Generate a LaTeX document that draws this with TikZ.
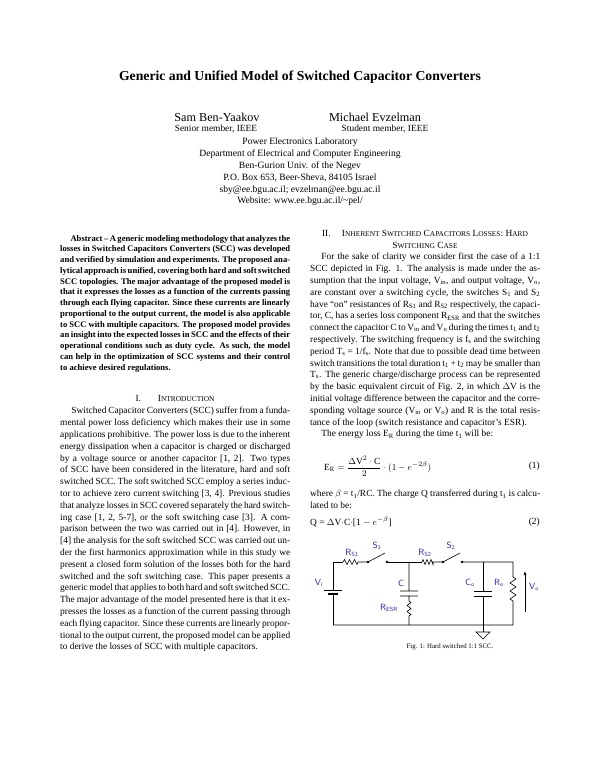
\documentclass[tikz,border=0pt]{standalone}
\usepackage{fontspec}
\setmainfont{Liberation Serif}
\usepackage{amsmath}
\usetikzlibrary{arrows.meta}
\definecolor{cblue}{RGB}{40,40,160}
\tikzset{
 body/.style={anchor=north west,inner sep=0pt,text width=230pt,align=justify,font=\fontsize{9.4}{11.8}\selectfont},
 ctr/.style={inner sep=0pt,font=\fontsize{9.4}{11}\selectfont},
 lab/.style={inner sep=0pt,text=cblue,font=\fontsize{9}{10}\selectfont\sffamily},
 wire/.style={line width=0.6pt},
 dot/.style={circle,fill,inner sep=0.9pt}
}
\newcommand{\sck}[2]{#1{\fontsize{7.4}{8}\selectfont\MakeUppercase{#2}}}
\begin{document}
\begin{tikzpicture}[x=1pt,y=-1pt]
\fill[white] (0,0) rectangle (600,776);
\useasboundingbox (0,0) rectangle (600,776);
\node[inner sep=0pt,font=\fontsize{13.7}{15}\selectfont\bfseries] (title) at (300,77) {Generic and Unified Model of Switched Capacitor Converters};
\node[inner sep=0pt,font=\fontsize{12.2}{14}\selectfont] (a1) at (217,117) {Sam Ben-Yaakov};
\node[inner sep=0pt,font=\fontsize{12.2}{14}\selectfont] (a2) at (375,117) {Michael Evzelman};
\node[ctr] (m1) at (216,129) {Senior member, IEEE};
\node[ctr] (m2) at (385,129) {Student member, IEEE};
\node[ctr,align=center,anchor=north,font=\fontsize{9.6}{11.8}\selectfont] (aff) at (300,138) {Power Electronics Laboratory\\Department of Electrical and Computer Engineering\\Ben-Gurion Univ. of the Negev\\P.O. Box 653, Beer-Sheva, 84105 Israel\\sby@ee.bgu.ac.il; evzelman@ee.bgu.ac.il\\Website: www.ee.bgu.ac.il/\textasciitilde pel/};
\node[body,font=\fontsize{8.6}{10.75}\selectfont\bfseries] (abs) at (60,235) {\hspace*{1.2em}Abstract -- A generic modeling methodology that analyzes the losses in Switched Capacitors Converters (SCC) was developed and verified by simulation and experiments. The proposed analytical approach is unified, covering both hard and soft switched SCC topologies. The major advantage of the proposed model is that it expresses the losses as a function of the currents passing through each flying capacitor. Since these currents are linearly proportional to the output current, the model is also applicable to SCC with multiple capacitors. The proposed model provides an insight into the expected losses in SCC and the effects of their operational conditions such as duty cycle. As such, the model can help in the optimization of SCC systems and their control to achieve desired regulations.};
\node[ctr] (h1) at (175,398) {I.\hspace{1.8em}\sck{I}{ntroduction}};
\node[body] (intro) at (60,407) {\hspace*{1.2em}Switched Capacitor Converters (SCC) suffer from a fundamental power loss deficiency which makes their use in some applications prohibitive. The power loss is due to the inherent energy dissipation when a capacitor is charged or discharged by a voltage source or another capacitor [1, 2]. Two types of SCC have been considered in the literature, hard and soft switched SCC. The soft switched SCC employ a series inductor to achieve zero current switching [3, 4]. Previous studies that analyze losses in SCC covered separately the hard switching case [1, 2, 5-7], or the soft switching case [3]. A comparison between the two was carried out in [4]. However, in [4] the analysis for the soft switched SCC was carried out under the first harmonics approximation while in this study we present a closed form solution of the losses both for the hard switched and the soft switching case. This paper presents a generic model that applies to both hard and soft switched SCC. The major advantage of the model presented here is that it expresses the losses as a function of the current passing through each flying capacitor. Since these currents are linearly proportional to the output current, the proposed model can be applied to derive the losses of SCC with multiple capacitors.};
\node[ctr,align=center,font=\fontsize{9.4}{12}\selectfont] (h2) at (425,239) {II.\hspace{1.2em}\sck{I}{nherent} \sck{S}{witched} \sck{C}{apacitors} \sck{L}{osses}: \sck{H}{ard}\\\sck{S}{witching} \sck{C}{ase}};
\node[body] (p2) at (310,253) {\hspace*{1.2em}For the sake of clarity we consider first the case of a 1:1 SCC depicted in Fig. 1. The analysis is made under the assumption that the input voltage, V\textsubscript{in}, and output voltage, V\textsubscript{o}, are constant over a switching cycle, the switches S\textsubscript{1} and S\textsubscript{2} have ``on'' resistances of R\textsubscript{S1} and R\textsubscript{S2} respectively, the capacitor, C, has a series loss component R\textsubscript{ESR} and that the switches connect the capacitor C to V\textsubscript{in} and V\textsubscript{o} during the times t\textsubscript{1} and t\textsubscript{2} respectively. The switching frequency is f\textsubscript{s} and the switching period T\textsubscript{s} = 1/f\textsubscript{s}. Note that due to possible dead time between switch transitions the total duration t\textsubscript{1} + t\textsubscript{2} may be smaller than T\textsubscript{s}. The generic charge/discharge process can be represented by the basic equivalent circuit of Fig. 2, in which $\Delta$V is the initial voltage difference between the capacitor and the corresponding voltage source (V\textsubscript{in} or V\textsubscript{o}) and R is the total resistance of the loop (switch resistance and capacitor's ESR).\par
\hspace*{1.2em}The energy loss E\textsubscript{R} during the time t\textsubscript{1} will be:};
\node[ctr,anchor=west] (eq1) at (324,466) {E$_{\mathrm{R}} = \dfrac{\Delta\mathrm{V}^2\cdot\mathrm{C}}{2}\cdot(1-e^{-2\beta})$};
\node[ctr,anchor=east] (n1) at (540,466) {(1)};
\node[body] (p3) at (310,490) {where $\beta$ = t\textsubscript{1}/RC. The charge Q transferred during t\textsubscript{1} is calculated to be:};
\node[ctr,anchor=west] (eq2) at (310,522) {Q = $\Delta$V$\cdot$C$\cdot$[1 $-$ $e^{-\beta}$]};
\node[ctr,anchor=east] (n2) at (540,522) {(2)};
% circuit
\coordinate (tl) at (333,562); \coordinate (bl) at (333,625);
\coordinate (r1a) at (343,562); \coordinate (r1b) at (358,562);
\coordinate (s1a) at (368,562); \coordinate (s1b) at (387,562);
\coordinate (cn) at (409,562); \coordinate (r2a) at (422,562); \coordinate (r2b) at (433,562);
\coordinate (s2a) at (443,562); \coordinate (s2b) at (462,562);
\coordinate (co) at (483,562); \coordinate (ro) at (513,562);
\draw[wire] (bl) -- (333,594) (333,590) -- (tl) -- (r1a);
\draw[wire] (324,590) -- (342,590); \draw[wire,line width=1.4pt] (328,594) -- (338,594);
\draw[wire] (r1a) -- ++(1.5,-2.5) -- ++(2.5,5) -- ++(2.5,-5) -- ++(2.5,5) -- ++(2.5,-5) -- ++(2.5,5) -- (r1b) -- (s1a);
\node[dot] (d1) at (s1a) {}; \node[dot] (d2) at (s1b) {};
\draw[wire] (s1a) -- (385,553);
\draw[wire] (s1b) -- (r2a);
\draw[wire] (r2a) -- ++(1,-2.5) -- ++(2,5) -- ++(2,-5) -- ++(2,5) -- ++(2,-5) -- ++(2,5) -- (r2b) -- (s2a);
\node[dot] (d3) at (s2a) {}; \node[dot] (d4) at (s2b) {};
\draw[wire] (s2a) -- (460,553);
\draw[wire] (s2b) -- (ro) -- (513,577) -- ++(3,2) -- ++(-6,4) -- ++(6,4) -- ++(-6,4) -- ++(6,4) -- ++(-6,4) -- ++(3,2) -- (513,625) -- (bl);
\draw[wire] (cn) -- (409,591) (400,591) -- (418,591) (400,596) -- (418,596) (409,596) -- (409,601) -- ++(2,1.5) -- ++(-4,3) -- ++(4,3) -- ++(-4,3) -- ++(4,3) -- ++(-2,1.5) -- (409,625);
\draw[wire] (co) -- (483,591) (474,591) -- (492,591) (474,596) -- (492,596) (483,596) -- (483,632);
\draw[wire] (476,632) -- (490,632) -- (483,639) -- cycle;
\draw[wire,-{Latex[length=4pt,width=3pt]}] (525,612) -- (525,571);
\node[lab] (lrs1) at (352,553) {R\textsubscript{S1}};
\node[lab] (ls1) at (377,546) {S\textsubscript{1}};
\node[lab] (lrs2) at (425,553) {R\textsubscript{S2}};
\node[lab] (ls2) at (451,546) {S\textsubscript{2}};
\node[lab] (lvi) at (319,583) {V\textsubscript{i}};
\node[lab] (lc) at (401,583) {C};
\node[lab] (lesr) at (389,608) {R\textsubscript{ESR}};
\node[lab] (lco) at (470,583) {C\textsubscript{o}};
\node[lab] (lro) at (499,583) {R\textsubscript{o}};
\node[lab] (lvo) at (534,587) {V\textsubscript{o}};
\node[inner sep=0pt,font=\fontsize{6.8}{8}\selectfont] (cap) at (450,647) {Fig. 1: Hard switched 1:1 SCC.};
\end{tikzpicture}
\end{document}
